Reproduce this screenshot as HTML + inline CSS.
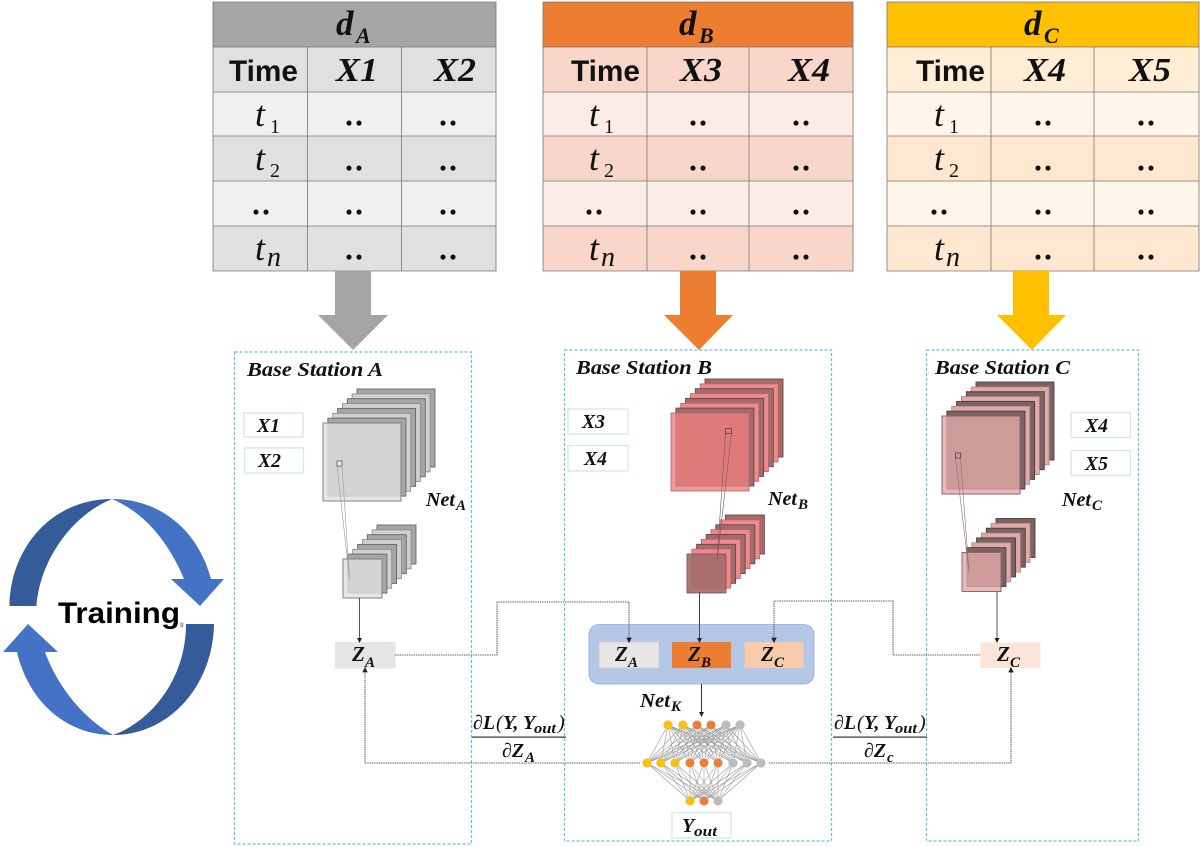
<!DOCTYPE html>
<html><head><meta charset="utf-8"><style>
html,body{margin:0;padding:0;background:#fff}
svg{display:block}
text{font-family:"Liberation Serif",serif;font-weight:bold;font-style:italic;fill:#111}
.s{font-family:"Liberation Sans",sans-serif;font-style:normal}
.t{font-weight:normal;font-size:36px}.ts{font-weight:normal;font-style:normal;font-size:20px}
.tn{font-weight:normal;font-size:28px}
.d{font-weight:normal;font-style:normal;font-size:40px;stroke:#111;stroke-width:.4}
.h{font-size:35px}.hs{font-size:22px}.x{font-size:34px}
.b{font-size:20px}.l{font-size:20px}.z{font-size:21px}.sub{font-size:15px}
.grid{fill:none;stroke:#777;stroke-width:.8}
.dv{fill:none;stroke:#666;stroke-width:1.1;stroke-dasharray:1.5 .8}
.bx{fill:none;stroke:#5bc4e8;stroke-width:1.2;stroke-dasharray:3 2}
.k{fill:#fff;stroke:#d3e9e2;stroke-width:1.3}
.a1{fill:#a6a6a6;stroke:#666;stroke-width:.9}.a2{fill:#d0d0d0;stroke:#888;stroke-width:.8}
.a3{fill:#e0e0e0;fill-opacity:.8;stroke:#808080;stroke-width:1}
.b1{fill:#a56b6b;stroke:#6a4545;stroke-width:.9}.b2{fill:#f08a8a;stroke:#b06a6a;stroke-width:.8}
.b3{fill:#ed7e7e;fill-opacity:.8;stroke:#b06a6a;stroke-width:.8}
.b4{fill:#a56b6b;fill-opacity:.92;stroke:#7a5050;stroke-width:.8}
.c1{fill:#7b6361;stroke:#4e3c3a;stroke-width:.9}.c2{fill:#e1a9a9;stroke:#a88;stroke-width:.8}
.c3{fill:#e1a9a9;fill-opacity:.8;stroke:#8a6a6a;stroke-width:1}
.g{stroke:#999;stroke-width:.6}
.ny{fill:#ffc000;stroke:#ccc;stroke-width:.5}.no{fill:#ed7d31;stroke:#ccc;stroke-width:.5}.ng{fill:#bcbcbc;stroke:#ccc;stroke-width:.5}
</style></head><body>
<svg width="1200" height="847" viewBox="0 0 1200 847" xmlns="http://www.w3.org/2000/svg">
<defs>
<rect id="B" width="78" height="78"/>
<rect id="S" width="39" height="39"/>
<marker id="ar" markerWidth="5" markerHeight="5" refX="4" refY="2.5" orient="auto"><path d="M0 0L5 2.500L0 5z" fill="#222"/></marker>
</defs>

<!-- Table A -->
<rect x="213" y="2" width="283" height="45" fill="#a5a5a5"/>
<rect x="213" y="47" width="283" height="45" fill="#e0e0e0"/>
<rect x="213" y="92" width="283" height="44" fill="#f0f0f0"/>
<rect x="213" y="136" width="283" height="45" fill="#e0e0e0"/>
<rect x="213" y="181" width="283" height="45" fill="#f0f0f0"/>
<rect x="213" y="226" width="283" height="45" fill="#e0e0e0"/>
<path class="grid" d="M213 2H496V271H213ZM213 47H496M213 92H496M213 136H496M213 181H496M213 226H496M307.500 47V271M401.500 47V271"/>
<!-- Table B -->
<rect x="543" y="2" width="310" height="45" fill="#ed7d31"/>
<rect x="543" y="47" width="310" height="45" fill="#f8d6c9"/>
<rect x="543" y="92" width="310" height="44" fill="#fbece7"/>
<rect x="543" y="136" width="310" height="45" fill="#f8d6c9"/>
<rect x="543" y="181" width="310" height="45" fill="#fbece7"/>
<rect x="543" y="226" width="310" height="45" fill="#f8d6c9"/>
<path class="grid" d="M543 2H853V271H543ZM543 47H853M543 92H853M543 136H853M543 181H853M543 226H853M647 47V271M749 47V271"/>
<!-- Table C -->
<rect x="887" y="2" width="312" height="45" fill="#ffc000"/>
<rect x="887" y="47" width="312" height="45" fill="#ffedd6"/>
<rect x="887" y="92" width="312" height="44" fill="#fff5e9"/>
<rect x="887" y="136" width="312" height="45" fill="#ffe8cf"/>
<rect x="887" y="181" width="312" height="45" fill="#fff5e9"/>
<rect x="887" y="226" width="312" height="45" fill="#ffe8cf"/>
<path class="grid" d="M887 2H1199V271H887ZM887 47H1199M887 92H1199M887 136H1199M887 181H1199M887 226H1199M991 47V271M1094 47V271"/>

<!-- Table text A -->
<text class="h" x="336" y="35">d</text><text class="hs" x="356" y="43">A</text>
<text class="s" x="229" y="81" font-size="30" textLength="69" lengthAdjust="spacingAndGlyphs">Time</text>
<text class="x" x="336" y="81" textLength="42" lengthAdjust="spacingAndGlyphs">X1</text>
<text class="x" x="434" y="81" textLength="42" lengthAdjust="spacingAndGlyphs">X2</text>
<text class="t" x="255" y="126">t</text><text class="ts" x="270" y="133">1</text>
<text class="t" x="255" y="170">t</text><text class="ts" x="270" y="177">2</text>
<text class="t" x="255" y="260">t</text><text class="tn" x="267" y="266">n</text>
<text class="d" x="344" y="125">..</text><text class="d" x="438" y="125">..</text>
<text class="d" x="344" y="170">..</text><text class="d" x="438" y="170">..</text>
<text class="d" x="251" y="214">..</text><text class="d" x="344" y="214">..</text><text class="d" x="438" y="214">..</text>
<text class="d" x="344" y="259">..</text><text class="d" x="438" y="259">..</text>
<!-- Table text B -->
<text class="h" x="679" y="35">d</text><text class="hs" x="699" y="43">B</text>
<text class="s" x="571" y="81" font-size="30" textLength="69" lengthAdjust="spacingAndGlyphs">Time</text>
<text class="x" x="680" y="81" textLength="42" lengthAdjust="spacingAndGlyphs">X3</text>
<text class="x" x="788" y="81" textLength="42" lengthAdjust="spacingAndGlyphs">X4</text>
<text class="t" x="589" y="126">t</text><text class="ts" x="604" y="133">1</text>
<text class="t" x="589" y="170">t</text><text class="ts" x="604" y="177">2</text>
<text class="t" x="589" y="260">t</text><text class="tn" x="601" y="266">n</text>
<text class="d" x="688" y="125">..</text><text class="d" x="791" y="125">..</text>
<text class="d" x="688" y="170">..</text><text class="d" x="791" y="170">..</text>
<text class="d" x="584" y="214">..</text><text class="d" x="688" y="214">..</text><text class="d" x="791" y="214">..</text>
<text class="d" x="688" y="259">..</text><text class="d" x="791" y="259">..</text>
<!-- Table text C -->
<text class="h" x="1024" y="35">d</text><text class="hs" x="1044" y="43">C</text>
<text class="s" x="916" y="81" font-size="30" textLength="69" lengthAdjust="spacingAndGlyphs">Time</text>
<text class="x" x="1024" y="81" textLength="42" lengthAdjust="spacingAndGlyphs">X4</text>
<text class="x" x="1129" y="81" textLength="42" lengthAdjust="spacingAndGlyphs">X5</text>
<text class="t" x="934" y="126">t</text><text class="ts" x="949" y="133">1</text>
<text class="t" x="934" y="170">t</text><text class="ts" x="949" y="177">2</text>
<text class="t" x="934" y="260">t</text><text class="tn" x="946" y="266">n</text>
<text class="d" x="1033" y="125">..</text><text class="d" x="1136" y="125">..</text>
<text class="d" x="1033" y="170">..</text><text class="d" x="1136" y="170">..</text>
<text class="d" x="929" y="214">..</text><text class="d" x="1033" y="214">..</text><text class="d" x="1136" y="214">..</text>
<text class="d" x="1033" y="259">..</text><text class="d" x="1136" y="259">..</text>

<!-- Big arrows -->
<path d="M335 271H371V315H388L353 350L318 315H335Z" fill="#a5a5a5"/>
<path d="M680 271H716V315H733L699 350L664 315H680Z" fill="#ed7d31"/>
<path d="M1013 271H1049V315H1066L1032 350L997 315H1013Z" fill="#ffc000"/>

<!-- Station boxes -->
<rect class="bx" x="234.500" y="352" width="237" height="492"/>
<rect class="bx" x="564.500" y="350" width="267" height="491"/>
<rect class="bx" x="926.500" y="350" width="212" height="491"/>
<text class="b" x="247" y="376" textLength="136" lengthAdjust="spacingAndGlyphs">Base Station A</text>
<text class="b" x="576" y="374" textLength="136" lengthAdjust="spacingAndGlyphs">Base Station B</text>
<text class="b" x="935" y="374" textLength="135" lengthAdjust="spacingAndGlyphs">Base Station C</text>

<!-- Feature boxes -->
<rect class="k" x="244" y="413" width="59" height="24"/><text class="b" x="257" y="432" textLength="23" lengthAdjust="spacingAndGlyphs">X1</text>
<rect class="k" x="244.500" y="448" width="59" height="25"/><text class="b" x="258" y="467" textLength="23" lengthAdjust="spacingAndGlyphs">X2</text>
<rect class="k" x="568" y="409" width="60" height="25"/><text class="b" x="582" y="428" textLength="23" lengthAdjust="spacingAndGlyphs">X3</text>
<rect class="k" x="568" y="445.500" width="60" height="25.500"/><text class="b" x="584" y="465" textLength="23" lengthAdjust="spacingAndGlyphs">X4</text>
<rect class="k" x="1071" y="412.500" width="59.500" height="25"/><text class="b" x="1085" y="432" textLength="23" lengthAdjust="spacingAndGlyphs">X4</text>
<rect class="k" x="1071" y="450.500" width="59.500" height="25"/><text class="b" x="1085" y="470" textLength="23" lengthAdjust="spacingAndGlyphs">X5</text>

<!-- Stack A big -->
<use href="#B" class="a1" x="357" y="389"/><use href="#B" class="a2" x="352.100" y="393.900"/><use href="#B" class="a1" x="347.300" y="398.700"/><use href="#B" class="a2" x="342.400" y="403.600"/><use href="#B" class="a1" x="337.600" y="408.400"/><use href="#B" class="a2" x="332.700" y="413.300"/><use href="#B" class="a1" x="327.900" y="418.100"/><use href="#B" class="a3" x="323" y="423"/>
<!-- Stack A small -->
<use href="#S" class="a1" x="377" y="525"/><use href="#S" class="a2" x="372.100" y="529.900"/><use href="#S" class="a1" x="367.300" y="534.700"/><use href="#S" class="a2" x="362.400" y="539.600"/><use href="#S" class="a1" x="357.600" y="544.400"/><use href="#S" class="a2" x="352.700" y="549.300"/><use href="#S" class="a1" x="347.900" y="554.100"/><use href="#S" class="a3" x="343" y="559"/>
<rect x="337" y="461" width="5" height="5" fill="#eee" stroke="#555" stroke-width=".8"/>
<path d="M337 466L349.500 579L342 466" fill="none" stroke="#999" stroke-width=".6"/>

<!-- Stack B big -->
<use href="#B" class="b1" x="705" y="379"/><use href="#B" class="b2" x="700.100" y="383.900"/><use href="#B" class="b1" x="695.300" y="388.700"/><use href="#B" class="b2" x="690.400" y="393.600"/><use href="#B" class="b1" x="685.600" y="398.400"/><use href="#B" class="b2" x="680.700" y="403.300"/><use href="#B" class="b1" x="675.900" y="408.100"/><use href="#B" class="b3" x="671" y="413"/>
<!-- Stack B small -->
<use href="#S" class="b1" x="725.400" y="515"/><use href="#S" class="b2" x="720.600" y="519.900"/><use href="#S" class="b1" x="715.800" y="524.800"/><use href="#S" class="b2" x="711" y="529.600"/><use href="#S" class="b1" x="706.200" y="534.500"/><use href="#S" class="b2" x="701.400" y="539.400"/><use href="#S" class="b1" x="696.600" y="544.300"/><use href="#S" class="b2" x="691.800" y="549.100"/><use href="#S" class="b4" x="687" y="554"/>
<rect x="725.500" y="428.500" width="6" height="5" fill="none" stroke="#6a3a3a" stroke-width=".8"/>
<path d="M725.500 433.500L717 561L731.500 433.500" fill="none" stroke="#7a5555" stroke-width=".6"/>

<!-- Stack C big -->
<use href="#B" class="c1" x="976" y="382"/><use href="#B" class="c2" x="971.100" y="386.900"/><use href="#B" class="c1" x="966.300" y="391.700"/><use href="#B" class="c2" x="961.400" y="396.600"/><use href="#B" class="c1" x="956.600" y="401.400"/><use href="#B" class="c2" x="951.700" y="406.300"/><use href="#B" class="c1" x="946.900" y="411.100"/><use href="#B" class="c3" x="942" y="416"/>
<!-- Stack C small -->
<use href="#S" class="c1" x="996" y="518.500"/><use href="#S" class="c2" x="991.100" y="523.400"/><use href="#S" class="c1" x="986.300" y="528.200"/><use href="#S" class="c2" x="981.400" y="533.100"/><use href="#S" class="c1" x="976.600" y="537.900"/><use href="#S" class="c2" x="971.700" y="542.800"/><use href="#S" class="c1" x="966.900" y="547.600"/><use href="#S" class="c3" x="962" y="552.500"/>
<rect x="955.500" y="453" width="5" height="5" fill="none" stroke="#5a4040" stroke-width=".8"/>
<path d="M955.500 458L969 572L960.500 458" fill="none" stroke="#8a7070" stroke-width=".6"/>

<!-- Net labels -->
<text class="l" x="426" y="506" textLength="29" lengthAdjust="spacingAndGlyphs">Net</text><text class="sub" x="456" y="510">A</text>
<text class="l" x="768" y="505" textLength="29" lengthAdjust="spacingAndGlyphs">Net</text><text class="sub" x="798" y="509">B</text>
<text class="l" x="1062" y="506" textLength="29" lengthAdjust="spacingAndGlyphs">Net</text><text class="sub" x="1092" y="510">C</text>
<text class="l" x="640" y="707" textLength="30" lengthAdjust="spacingAndGlyphs">Net</text><text class="sub" x="671" y="711">K</text>

<!-- Net K -->
<rect x="589" y="624.500" width="225" height="59.500" rx="10" fill="#b4c7e7" stroke="#8faadc" stroke-width=".8"/>
<rect x="599" y="642" width="60" height="26" fill="#e7e6e6" stroke="#d8c8c0" stroke-width=".8"/>
<rect x="672" y="642" width="59" height="26" fill="#ed7d31"/>
<rect x="744.500" y="642" width="59" height="26" fill="#f8cbad"/>
<text class="z" x="615" y="661">Z</text><text class="sub" x="628" y="667">A</text>
<text class="z" x="688" y="661">Z</text><text class="sub" x="701" y="667">B</text>
<text class="z" x="761" y="661">Z</text><text class="sub" x="774" y="667">C</text>

<!-- Z boxes -->
<rect x="335.500" y="642.500" width="59.500" height="25.500" fill="#e7e6e6" stroke="#f4dccb" stroke-width=".8"/>
<text class="z" x="352" y="661">Z</text><text class="sub" x="365" y="667">A</text>
<rect x="980.500" y="642.500" width="60" height="25.500" fill="#fbe5d6"/>
<text class="z" x="997" y="661">Z</text><text class="sub" x="1010" y="667">C</text>

<!-- Connectors -->
<path d="M359.500 598V642" stroke="#555" stroke-width="1" fill="none" marker-end="url(#ar)"/>
<path d="M699.500 592V642" stroke="#444" stroke-width="1" fill="none" marker-end="url(#ar)"/>
<path d="M997 592V642" stroke="#555" stroke-width="1" fill="none" marker-end="url(#ar)"/>
<path d="M701.500 684V716" stroke="#333" stroke-width="1" fill="none" marker-end="url(#ar)"/>
<path class="dv" d="M395 655H497V602H629V642" marker-end="url(#ar)"/>
<path class="dv" d="M980 655H893V601H774V642" marker-end="url(#ar)"/>
<path class="dv" d="M640 763H365V668" marker-end="url(#ar)"/>
<path class="dv" d="M769 763H1011V668" marker-end="url(#ar)"/>

<!-- Fractions -->
<rect x="472" y="736.500" width="94" height="1.200" fill="#333"/>
<rect x="833" y="736.500" width="94" height="1.200" fill="#333"/>
<text class="l" x="473" y="729">∂L</text><text class="l" x="496" y="729" style="font-weight:normal">(</text><text class="l" x="503" y="729">Y,</text><text class="l" x="523" y="729">Y</text><text class="sub" x="534" y="733" textLength="22" lengthAdjust="spacingAndGlyphs">out</text><text class="l" x="558" y="729" style="font-weight:normal">)</text>
<text class="l" x="502" y="757">∂Z</text><text class="sub" x="525" y="762">A</text>
<text class="l" x="834" y="729">∂L</text><text class="l" x="857" y="729" style="font-weight:normal">(</text><text class="l" x="864" y="729">Y,</text><text class="l" x="884" y="729">Y</text><text class="sub" x="895" y="733" textLength="22" lengthAdjust="spacingAndGlyphs">out</text><text class="l" x="919" y="729" style="font-weight:normal">)</text>
<text class="l" x="864" y="757">∂Z</text><text class="sub" x="887" y="762">c</text>

<!-- Network edges -->
<g class="g">
<path d="M668 725L647 763M668 725L661 763M668 725L675 763M668 725L690 763M668 725L704 763M668 725L718 763M668 725L733 763M668 725L747 763M668 725L761 763"/>
<path d="M683 725L647 763M683 725L661 763M683 725L675 763M683 725L690 763M683 725L704 763M683 725L718 763M683 725L733 763M683 725L747 763M683 725L761 763"/>
<path d="M697 725L647 763M697 725L661 763M697 725L675 763M697 725L690 763M697 725L704 763M697 725L718 763M697 725L733 763M697 725L747 763M697 725L761 763"/>
<path d="M711 725L647 763M711 725L661 763M711 725L675 763M711 725L690 763M711 725L704 763M711 725L718 763M711 725L733 763M711 725L747 763M711 725L761 763"/>
<path d="M726 725L647 763M726 725L661 763M726 725L675 763M726 725L690 763M726 725L704 763M726 725L718 763M726 725L733 763M726 725L747 763M726 725L761 763"/>
<path d="M740 725L647 763M740 725L661 763M740 725L675 763M740 725L690 763M740 725L704 763M740 725L718 763M740 725L733 763M740 725L747 763M740 725L761 763"/>
<path d="M690 801L647 763M690 801L661 763M690 801L675 763M690 801L690 763M690 801L704 763M690 801L718 763M690 801L733 763M690 801L747 763M690 801L761 763"/>
<path d="M704 801L647 763M704 801L661 763M704 801L675 763M704 801L690 763M704 801L704 763M704 801L718 763M704 801L733 763M704 801L747 763M704 801L761 763"/>
<path d="M718 801L647 763M718 801L661 763M718 801L675 763M718 801L690 763M718 801L704 763M718 801L718 763M718 801L733 763M718 801L747 763M718 801L761 763"/>
</g>
<circle class="ny" cx="668" cy="725" r="4.500"/><circle class="ny" cx="683" cy="725" r="4.500"/><circle class="no" cx="697" cy="725" r="4.500"/><circle class="no" cx="711" cy="725" r="4.500"/><circle class="ng" cx="726" cy="725" r="4.500"/><circle class="ng" cx="740" cy="725" r="4.500"/>
<circle class="ny" cx="647" cy="763" r="4.500"/><circle class="ny" cx="661" cy="763" r="4.500"/><circle class="ny" cx="675" cy="763" r="4.500"/><circle class="no" cx="690" cy="763" r="4.500"/><circle class="no" cx="704" cy="763" r="4.500"/><circle class="no" cx="718" cy="763" r="4.500"/><circle class="ng" cx="733" cy="763" r="4.500"/><circle class="ng" cx="747" cy="763" r="4.500"/><circle class="ng" cx="761" cy="763" r="4.500"/>
<circle class="ny" cx="690" cy="801" r="4.500"/><circle class="no" cx="704" cy="801" r="4.500"/><circle class="ng" cx="718" cy="801" r="4.500"/>
<rect class="k" x="672" y="812.500" width="59" height="25.500"/>
<text class="l" x="682" y="832">Y</text><text class="sub" x="694" y="836" textLength="23" lengthAdjust="spacingAndGlyphs">out</text>

<!-- Training ring -->
<path d="M9.500 606C10 550 50 499 112 499C72 515 40 560 36.500 606Z" fill="#345b9a"/>
<path d="M112 499C160 499 198 530 211 579H224L200 606L171 579H184C172 550 150 515 112 499Z" fill="#4472c4"/>
<path d="M186 624H214C213 685 170 735 113 735C150 722 186 680 186 624Z" fill="#345b9a"/>
<path d="M113 735C65 735 28 700 17 652H3L28 624L58 652H45C55 680 78 715 113 735Z" fill="#4472c4"/>
<text class="s" x="58" y="623" font-size="30" textLength="122" lengthAdjust="spacingAndGlyphs" style="fill:#000">Training</text>
<text class="s" x="180" y="626" font-size="6" style="fill:#777">g</text>
</svg>
</body></html>
